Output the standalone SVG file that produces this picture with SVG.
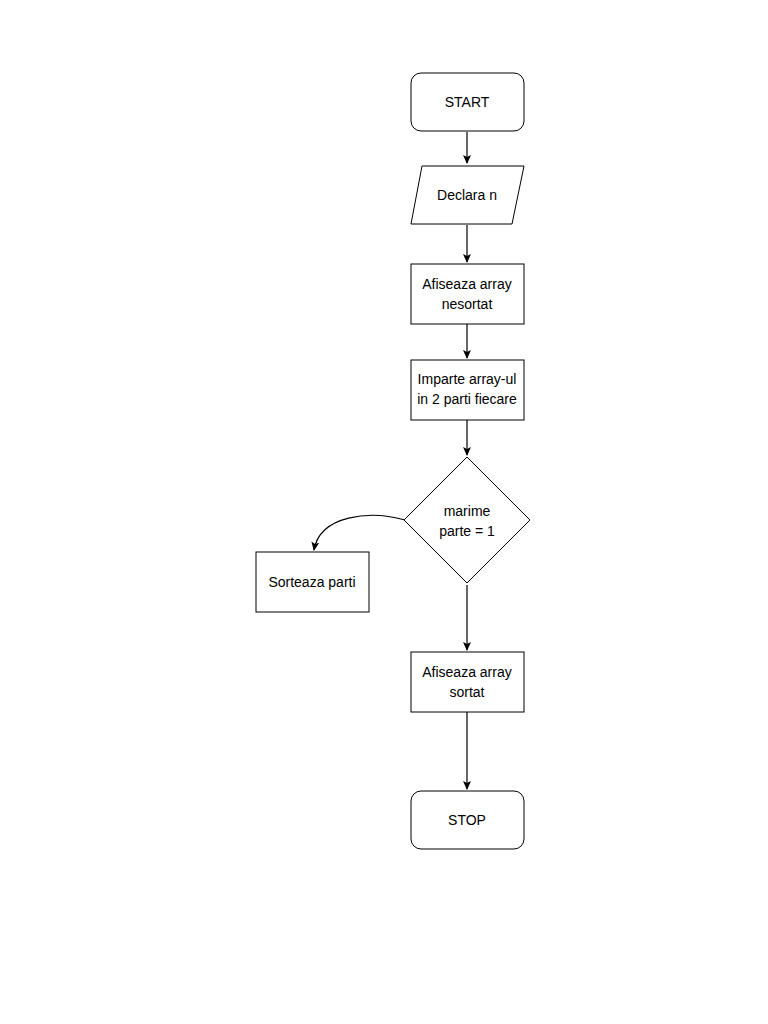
<svg xmlns="http://www.w3.org/2000/svg" width="768" height="1024" viewBox="0 0 768 1024">
<style>
.s{fill:#fff;stroke:#000;stroke-width:1}
.t{font-family:"Liberation Sans",Arial,sans-serif;font-size:14px;fill:#000;text-anchor:middle}
.c{fill:none;stroke:#000;stroke-width:1.2}
</style>
<defs><marker id="a" markerWidth="10" markerHeight="10" refX="8" refY="5" orient="auto" markerUnits="userSpaceOnUse"><path d="M0,1 L9,5 L0,9 L2,5 Z" fill="#000"/></marker></defs>
<rect width="768" height="1024" fill="#fff"/>
<g id="connectors">
<path class="c" d="M467,132 V163" marker-end="url(#a)"/>
<path class="c" d="M467,225 V262" marker-end="url(#a)"/>
<path class="c" d="M467,324 V358" marker-end="url(#a)"/>
<path class="c" d="M467,420 V455" marker-end="url(#a)"/>
<path class="c" d="M467,585 V650" marker-end="url(#a)"/>
<path class="c" d="M467,712 V789" marker-end="url(#a)"/>
<path class="c" d="M405,520 C370,510 320,515 314,550" marker-end="url(#a)"/>
</g>
<g id="start"><rect class="s" x="411" y="73" width="113" height="58" rx="10"/><text class="t" x="467" y="107">START</text></g>
<g id="declara"><path class="s" d="M422,166 H524 L512,224 H411 Z"/><text class="t" x="467" y="200">Declara n</text></g>
<g id="afis1"><rect class="s" x="411" y="264" width="113" height="60"/><text class="t" x="467" y="289">Afiseaza array</text><text class="t" x="467" y="309">nesortat</text></g>
<g id="imparte"><rect class="s" x="411" y="360" width="113" height="60"/><text class="t" x="467" y="384">Imparte array-ul</text><text class="t" x="467" y="404">in 2 parti fiecare</text></g>
<g id="marime"><path class="s" d="M467,457 L530,520 L467,583 L404,520 Z"/><text class="t" x="467" y="516">marime</text><text class="t" x="467" y="536">parte = 1</text></g>
<g id="sorteaza"><rect class="s" x="256" y="552" width="113" height="60"/><text class="t" x="312" y="587">Sorteaza parti</text></g>
<g id="afis2"><rect class="s" x="411" y="652" width="113" height="60"/><text class="t" x="467" y="677">Afiseaza array</text><text class="t" x="467" y="697">sortat</text></g>
<g id="stop"><rect class="s" x="411" y="791" width="113" height="58" rx="10"/><text class="t" x="467" y="825">STOP</text></g>
</svg>
